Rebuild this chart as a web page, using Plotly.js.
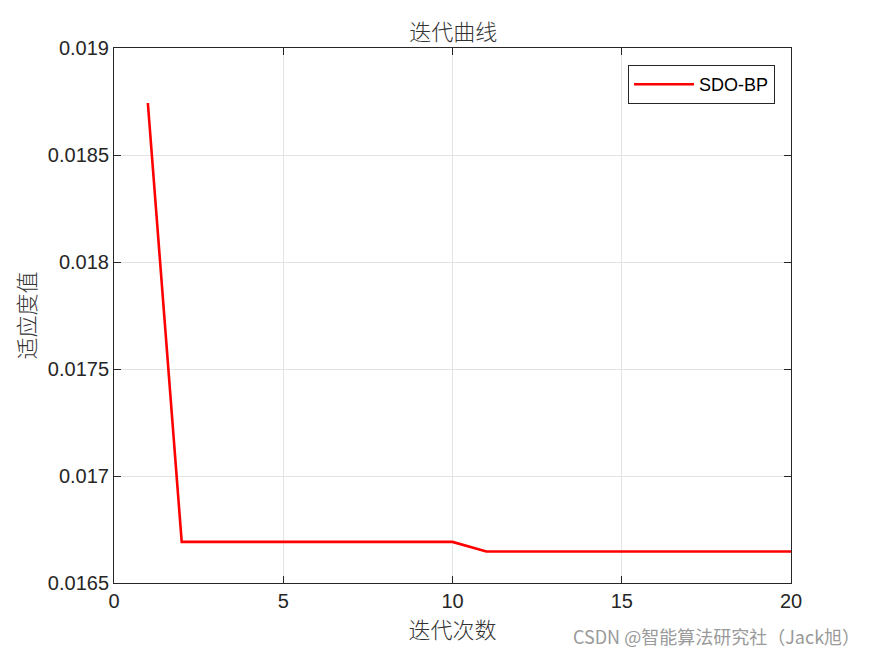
<!DOCTYPE html>
<html><head><meta charset="utf-8">
<script src="https://cdn.plot.ly/plotly-3.0.1.min.js"></script>
<style>html,body{margin:0;padding:0;background:#fff}#chart{width:875px;height:656px}</style>
</head><body><div id="chart"></div>
<script>
const iterations = [1,2,3,4,5,6,7,8,9,10,11,12,13,14,15,16,17,18,19,20];
const fitness = [0.018743,0.016692,0.016692,0.016692,0.016692,0.016692,0.016692,0.016692,0.016692,0.016692,
                 0.016647,0.016647,0.016647,0.016647,0.016647,0.016647,0.016647,0.016647,0.016647,0.016647];
const seriesName = 'SDO-BP';
const xTicks = [0,5,10,15,20];
const yTicks = [0.0165,0.017,0.0175,0.018,0.0185,0.019];
const yTickText = ['0.0165','0.017','0.0175','0.018','0.0185','0.019'];

const cjk = '"Noto Sans CJK SC", sans-serif';
const tickFont = {family:'"Liberation Sans", Arial, sans-serif', size:20, color:'#262626'};
const axisCommon = {
  showline:true, mirror:'ticks', linecolor:'#262626', linewidth:1,
  ticks:'inside', ticklen:7, tickcolor:'#262626',
  showgrid:true, gridcolor:'#e3e3e3', gridwidth:1, zeroline:false,
  tickfont:tickFont
};
Plotly.newPlot('chart', [{
  x: iterations, y: fitness, name: seriesName, type:'scatter', mode:'lines',
  line:{color:'#ff0000', width:2.6}
}], {
  width:875, height:656,
  margin:{l:114, r:84, t:48, b:73},
  paper_bgcolor:'#fff', plot_bgcolor:'#fff',
  title:{text:'迭代曲线', font:{family:cjk, size:22, color:'#333', weight:300}, x:0.518, xanchor:'center', y:0.951, yanchor:'middle'},
  xaxis:Object.assign({}, axisCommon, {range:[0,20], tickvals:xTicks,
    title:{text:'迭代次数', font:{family:cjk, size:22, color:'#333', weight:300}, standoff:8}}),
  yaxis:Object.assign({}, axisCommon, {range:[0.0165,0.019], tickvals:yTicks, ticktext:yTickText,
    title:{text:'适应度值', font:{family:cjk, size:22, color:'#333', weight:300}, standoff:6}}),
  showlegend:true,
  legend:{x:0.9764, y:0.968, xanchor:'right', yanchor:'top', bgcolor:'#fff', bordercolor:'#262626', borderwidth:1,
    itemwidth:60,
    font:{family:'"Liberation Sans", Arial, sans-serif', size:18, color:'#000'}},
  annotations:[{text:'CSDN @智能算法研究社（Jack旭）', xref:'paper', yref:'paper', x:1.105, y:-0.099,
    xanchor:'right', yanchor:'middle', showarrow:false, font:{family:cjk, size:18, color:'#9a9a9a'}}]
}, {displayModeBar:false});
</script></body></html>
